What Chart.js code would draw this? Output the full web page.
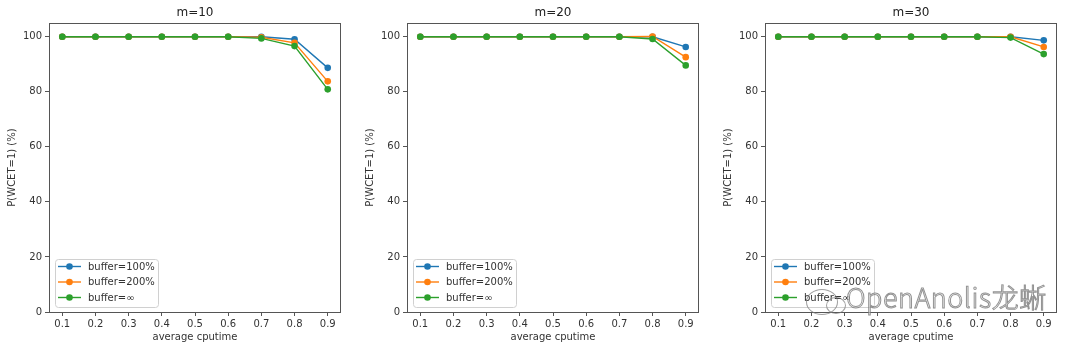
<!DOCTYPE html>
<html>
<head>
<meta charset="utf-8">
<script src="https://cdn.jsdelivr.net/npm/chart.js@4.4.1/dist/chart.umd.min.js"></script>
<style>
  html, body { margin: 0; padding: 0; background: #fff; }
  body { width: 1080px; height: 348px; position: relative; overflow: hidden; }
  .panel { position: absolute; top: 0; width: 350px; height: 348px; }
  .panel canvas { display: block; }
  #wm { position: absolute; left: 846px; top: 280px; font-family: "Noto Sans CJK SC", "DejaVu Sans", sans-serif;
        font-size: 27px; font-weight: 300; line-height: 34px; color: rgba(255,255,255,0.55);
        -webkit-text-stroke: 1px rgba(110,110,110,0.75); letter-spacing: 0.5px; white-space: nowrap; }
  .bub { position: absolute; border: 1.5px solid rgba(120,120,120,0.7); border-radius: 50%; }
</style>
</head>
<body>
<div class="panel" id="p0" style="left:0px"><canvas id="c0" width="350" height="348"></canvas></div>
<div class="panel" id="p1" style="left:358px"><canvas id="c1" width="350" height="348"></canvas></div>
<div class="panel" id="p2" style="left:716px"><canvas id="c2" width="350" height="348"></canvas></div>
<div class="bub" style="left:806px;top:289px;width:30px;height:24px;"></div>
<div class="bub" style="left:826px;top:297px;width:18px;height:15px;"></div>
<div id="wm">OpenAnolis龙蜥</div>
<script>
// ---- data ----
const xValues = [0.1, 0.2, 0.3, 0.4, 0.5, 0.6, 0.7, 0.8, 0.9];
const xTicks = [0.1, 0.2, 0.3, 0.4, 0.5, 0.6, 0.7, 0.8, 0.9];
const yTicks = [0, 20, 40, 60, 80, 100];
const panelTitles = ["m=10", "m=20", "m=30"];
const seriesLabels = ["buffer=100%", "buffer=200%", "buffer=\u221e"];

const m10_buf100 = [100, 100, 100, 100, 100, 100, 100, 99.1, 88.7];
const m10_buf200 = [100, 100, 100, 100, 100, 100, 99.8, 97.8, 83.8];
const m10_bufInf = [100, 100, 100, 100, 100, 100, 99.4, 96.6, 80.9];

const m20_buf100 = [100, 100, 100, 100, 100, 100, 100, 100, 96.3];
const m20_buf200 = [100, 100, 100, 100, 100, 100, 100, 100.1, 92.6];
const m20_bufInf = [100, 100, 100, 100, 100, 100, 100, 99.2, 89.6];

const m30_buf100 = [100, 100, 100, 100, 100, 100, 100, 100, 98.7];
const m30_buf200 = [100, 100, 100, 100, 100, 100, 100, 100, 96.3];
const m30_bufInf = [100, 100, 100, 100, 100, 100, 100, 99.7, 93.7];

const panels = [
  [m10_buf100, m10_buf200, m10_bufInf],
  [m20_buf100, m20_buf200, m20_bufInf],
  [m30_buf100, m30_buf200, m30_bufInf]
];
const colors = ["#1f77b4", "#ff7f0e", "#2ca02c"];

// ---- layout ----
const PLOT_LEFT = 49, PLOT_WIDTH = 292, PLOT_TOP = 23, PLOT_BOTTOM = 312, CANVAS_H = 348;
const FONT = "'DejaVu Sans', sans-serif";
const TEXT = "#333";
const SPINE = "#555";

Chart.defaults.font.family = FONT;
Chart.defaults.font.size = 10;
Chart.defaults.color = TEXT;

function makeDecor(title) {
  return {
    id: 'decor',
    afterDraw(chart) {
      const ctx = chart.ctx;
      const a = chart.chartArea;
      ctx.save();
      // spines
      ctx.strokeStyle = SPINE;
      ctx.lineWidth = 1;
      ctx.strokeRect(Math.round(a.left) + 0.5, Math.round(a.top) + 0.5,
                     Math.round(a.right - a.left) - 1, Math.round(a.bottom - a.top));
      // title
      ctx.fillStyle = "#222";
      ctx.font = "12px " + FONT;
      ctx.textAlign = "center";
      ctx.textBaseline = "middle";
      ctx.fillText(title, (a.left + a.right) / 2, 12.5);
      // legend
      const bx = a.left + 6, bw = 103, bh = 48, by = a.bottom - 5 - bh;
      ctx.beginPath();
      if (ctx.roundRect) ctx.roundRect(bx + 0.5, by + 0.5, bw, bh, 3); else ctx.rect(bx + 0.5, by + 0.5, bw, bh);
      ctx.fillStyle = "rgba(255,255,255,0.8)";
      ctx.fill();
      ctx.strokeStyle = "#d0d0d0";
      ctx.lineWidth = 1;
      ctx.stroke();
      chart.data.datasets.forEach((ds, i) => {
        const yy = by + 7.5 + i * 15.5;
        ctx.strokeStyle = ds.borderColor;
        ctx.lineWidth = 1.4;
        ctx.beginPath();
        ctx.moveTo(bx + 3, yy);
        ctx.lineTo(bx + 26, yy);
        ctx.stroke();
        ctx.fillStyle = ds.borderColor;
        ctx.beginPath();
        ctx.arc(bx + 14.5, yy, 3.3, 0, Math.PI * 2);
        ctx.fill();
        ctx.fillStyle = TEXT;
        ctx.font = "10px " + FONT;
        ctx.textAlign = "left";
        ctx.textBaseline = "middle";
        ctx.fillText(ds.label, bx + 33, yy + 0.5);
      });
      ctx.restore();
    }
  };
}

panels.forEach((series, pi) => {
  const datasets = series.map((vals, si) => ({
    label: seriesLabels[si],
    data: xValues.map((x, k) => ({ x: x, y: vals[k] })),
    borderColor: colors[si],
    backgroundColor: colors[si],
    borderWidth: 1.4,
    pointRadius: 3.3,
    pointHoverRadius: 3.3,
    pointBorderWidth: 0,
    tension: 0,
    order: 2 - si
  }));
  new Chart(document.getElementById('c' + pi), {
    type: 'line',
    data: { datasets },
    plugins: [makeDecor(panelTitles[pi])],
    options: {
      responsive: false,
      animation: false,
      events: [],
      layout: { padding: { top: PLOT_TOP, left: 0, right: 350 - PLOT_LEFT - PLOT_WIDTH, bottom: 0 } },
      plugins: { legend: { display: false }, title: { display: false }, tooltip: { enabled: false } },
      scales: {
        x: {
          type: 'linear',
          min: 0.06, max: 0.94,
          afterBuildTicks: s => { s.ticks = xTicks.map(v => ({ value: v })); },
          afterFit: s => { s.height = CANVAS_H - PLOT_BOTTOM; },
          ticks: { callback: v => v.toFixed(1), maxRotation: 0, autoSkip: false, padding: 2, color: TEXT, font: { size: 10 } },
          grid: { drawOnChartArea: false, drawTicks: true, tickLength: 4, tickColor: SPINE, tickWidth: 1 },
          border: { display: false },
          title: { display: true, text: 'average cputime', color: TEXT, font: { size: 10 }, padding: { top: 0, bottom: 5 } }
        },
        y: {
          type: 'linear',
          min: 0, max: 105,
          afterBuildTicks: s => { s.ticks = yTicks.map(v => ({ value: v })); },
          afterFit: s => { s.width = PLOT_LEFT; },
          ticks: { padding: 3, color: TEXT, font: { size: 10 } },
          grid: { drawOnChartArea: false, drawTicks: true, tickLength: 4, tickColor: SPINE, tickWidth: 1 },
          border: { display: false },
          title: { display: true, text: 'P(WCET=1) (%)', color: TEXT, font: { size: 10 }, padding: { top: 6, bottom: 0 } }
        }
      }
    }
  });
});
</script>
</body>
</html>
